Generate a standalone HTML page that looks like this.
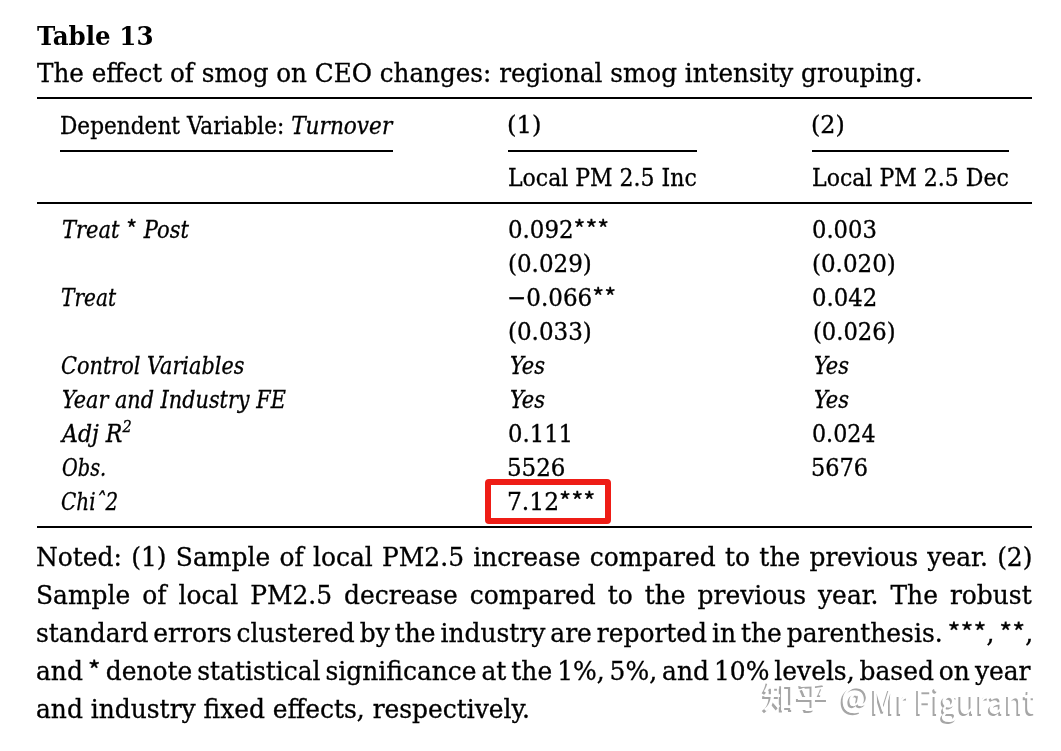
<!DOCTYPE html>
<html><head><meta charset="utf-8"><title>Table 13</title>
<style>
html,body{margin:0;padding:0;background:#fff;}
body{width:1061px;height:751px;position:relative;overflow:hidden;}
.t{position:absolute;white-space:nowrap;line-height:1;color:#000;font-family:"DejaVu Serif Condensed", "DejaVu Serif", "Liberation Serif", serif;transform-origin:0 0;-webkit-text-stroke:0.3px #000;}
.t sup{font-size:66%;vertical-align:0;position:relative;top:-0.62em;}
.t .a{line-height:0;font-family:"Noto Sans CJK SC",sans-serif;font-size:100%;position:relative;top:0em;font-style:normal;}
.r{position:absolute;background:#000;}
.box{position:absolute;border:6px solid #ee1d16;border-radius:4px;box-sizing:border-box;}
.wm{position:absolute;font-weight:500;white-space:nowrap;line-height:1;font-family:"Liberation Sans","Noto Sans CJK SC",sans-serif;color:#fff;transform-origin:0 0;}
</style></head><body>

<div class="t" id="e0" style="left:36.80px;top:22.80px;font-size:26.0px;font-weight:bold;-webkit-text-stroke:0;transform:scaleX(1.0506);">Table 13</div>
<div class="t" id="e1" style="left:37.42px;top:60.97px;font-size:25.8px;transform:scaleX(1.0624);">The effect of smog on CEO changes: regional smog intensity grouping.</div>
<div class="t" id="e2" style="left:59.80px;top:113.83px;font-size:24.2px;transform:scaleX(0.9947);">Dependent Variable: <i>Turnover</i></div>
<div class="t" id="e3" style="left:507.16px;top:113.33px;font-size:24.2px;transform:scaleX(1.1152);">(1)</div>
<div class="t" id="e4" style="left:811.42px;top:113.33px;font-size:24.2px;transform:scaleX(1.0942);">(2)</div>
<div class="t" id="e5" style="left:507.99px;top:165.53px;font-size:24.2px;transform:scaleX(1.0108);">Local PM 2.5 Inc</div>
<div class="t" id="e6" style="left:811.58px;top:165.53px;font-size:24.2px;transform:scaleX(1.0124);">Local PM 2.5 Dec</div>
<div class="t" id="e7" style="left:61.89px;top:217.53px;font-size:24.2px;transform:scaleX(0.9669);"><i>Treat <span class="a">*</span> Post</i></div>
<div class="t" id="e8" style="left:508.13px;top:217.53px;font-size:24.2px;transform:scaleX(1.0530);">0.092<span class="a">*</span><span class="a">*</span><span class="a">*</span></div>
<div class="t" id="e9" style="left:811.53px;top:217.53px;font-size:24.2px;transform:scaleX(1.0417);">0.003</div>
<div class="t" id="e10" style="left:508.07px;top:251.53px;font-size:24.2px;transform:scaleX(1.0574);">(0.029)</div>
<div class="t" id="e11" style="left:811.53px;top:251.53px;font-size:24.2px;transform:scaleX(1.0574);">(0.020)</div>
<div class="t" id="e12" style="left:61.46px;top:285.53px;font-size:24.2px;transform:scaleX(0.9272);"><i>Treat</i></div>
<div class="t" id="e13" style="left:507.46px;top:285.53px;font-size:24.2px;transform:scaleX(1.0588);">−0.066<span class="a">*</span><span class="a">*</span></div>
<div class="t" id="e14" style="left:811.95px;top:285.53px;font-size:24.2px;transform:scaleX(1.0473);">0.042</div>
<div class="t" id="e15" style="left:508.07px;top:319.53px;font-size:24.2px;transform:scaleX(1.0574);">(0.033)</div>
<div class="t" id="e16" style="left:812.83px;top:319.53px;font-size:24.2px;transform:scaleX(1.0414);">(0.026)</div>
<div class="t" id="e17" style="left:60.54px;top:353.53px;font-size:24.2px;transform:scaleX(0.9575);"><i>Control Variables</i></div>
<div class="t" id="e18" style="left:509.66px;top:353.53px;font-size:24.2px;transform:scaleX(0.9654);"><i>Yes</i></div>
<div class="t" id="e19" style="left:813.66px;top:353.53px;font-size:24.2px;transform:scaleX(0.9654);"><i>Yes</i></div>
<div class="t" id="e20" style="left:62.05px;top:387.53px;font-size:24.2px;transform:scaleX(0.9553);"><i>Year and Industry FE</i></div>
<div class="t" id="e21" style="left:509.66px;top:387.53px;font-size:24.2px;transform:scaleX(0.9654);"><i>Yes</i></div>
<div class="t" id="e22" style="left:813.66px;top:387.53px;font-size:24.2px;transform:scaleX(0.9654);"><i>Yes</i></div>
<div class="t" id="e23" style="left:61.58px;top:421.53px;font-size:24.2px;transform:scaleX(1.0119);"><i>Adj R<sup>2</sup></i></div>
<div class="t" id="e24" style="left:507.50px;top:421.53px;font-size:24.2px;transform:scaleX(1.0444);">0.111</div>
<div class="t" id="e25" style="left:811.98px;top:421.53px;font-size:24.2px;transform:scaleX(1.0200);">0.024</div>
<div class="t" id="e26" style="left:61.62px;top:455.53px;font-size:24.2px;transform:scaleX(0.8866);"><i>Obs.</i></div>
<div class="t" id="e27" style="left:506.85px;top:455.53px;font-size:24.2px;transform:scaleX(1.0563);">5526</div>
<div class="t" id="e28" style="left:811.46px;top:455.53px;font-size:24.2px;transform:scaleX(1.0302);">5676</div>
<div class="t" id="e29" style="left:61.49px;top:489.53px;font-size:24.2px;transform:scaleX(0.9192);"><i>Chiˆ2</i></div>
<div class="t" id="e30" style="left:506.87px;top:489.53px;font-size:24.2px;transform:scaleX(1.0739);">7.12<span class="a">*</span><span class="a">*</span><span class="a">*</span></div>
<div class="t" id="n0" style="left:36.30px;top:544.97px;font-size:25.8px;word-spacing:1.287px;transform:scaleX(1.0744);">Noted: (1) Sample of local PM2.5 increase compared to the previous year. (2)</div>
<div class="t" id="n1" style="left:35.57px;top:582.97px;font-size:25.8px;word-spacing:3.758px;transform:scaleX(1.0744);">Sample of local PM2.5 decrease compared to the previous year. The robust</div>
<div class="t" id="n2" style="left:36.30px;top:621.07px;font-size:25.8px;word-spacing:-2.772px;transform:scaleX(1.0744);">standard errors clustered by the industry are reported in the parenthesis. <span class="a">*</span><span class="a">*</span><span class="a">*</span>, <span class="a">*</span><span class="a">*</span>,</div>
<div class="t" id="n3" style="left:36.30px;top:659.07px;font-size:25.8px;word-spacing:-2.735px;transform:scaleX(1.0744);">and <span class="a">*</span> denote statistical significance at the 1%, 5%, and 10% levels, based on year</div>
<div class="t" id="n4" style="left:36.35px;top:697.07px;font-size:25.8px;transform:scaleX(1.0742);">and industry fixed effects, respectively.</div>
<div class="r" style="left:37px;top:97px;width:995px;height:2px"></div>
<div class="r" style="left:60px;top:150px;width:333px;height:2px"></div>
<div class="r" style="left:508px;top:150px;width:189px;height:2px"></div>
<div class="r" style="left:812px;top:150px;width:197px;height:2px"></div>
<div class="r" style="left:37px;top:202px;width:995px;height:2px"></div>
<div class="r" style="left:37px;top:526px;width:995px;height:2px"></div>
<div class="box" style="left:485px;top:479px;width:126px;height:45px"></div>
<div class="wm" id="wm1" style="left:763.24px;top:682.02px;font-size:31px;transform:scaleX(1.0744);text-shadow:-2px 2px 0.6px #a6a6a6;color:#fff;font-family:'Liberation Sans','Noto Sans CJK SC',sans-serif;font-weight:500">知乎</div>
<div class="wm" id="wm2" style="left:840.8px;top:681.34px;font-size:29px;transform:scaleX(1.0227);text-shadow:-2px 2px 0.6px #a6a6a6;color:#fff;font-family:'Noto Sans CJK SC',sans-serif">@</div>
<div class="wm" id="wm3" style="left:870.8px;top:682.8px;font-size:33.5px;transform:scaleX(0.8956);text-shadow:-2px 2px 0.6px #a6a6a6;color:#fff;font-family:'Noto Sans CJK SC',sans-serif">Mr Figurant</div>
</body></html>
